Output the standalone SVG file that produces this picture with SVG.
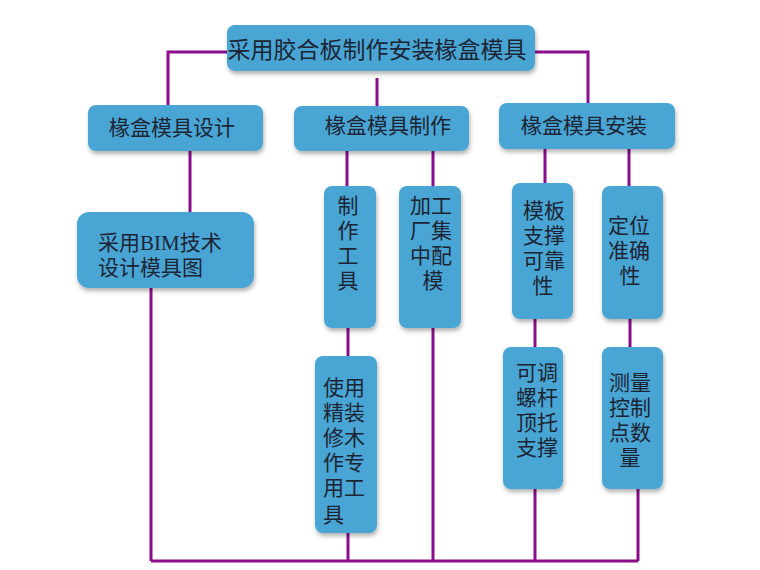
<svg xmlns="http://www.w3.org/2000/svg" width="760" height="570" viewBox="0 0 760 570">
<defs>
<filter id="sh" x="-20%" y="-20%" width="140%" height="150%">
<feDropShadow dx="1" dy="3" stdDeviation="2" flood-color="#000" flood-opacity="0.3"/>
</filter>
<style>
.box{fill:#4aa5d4;filter:url(#sh)}
.t{font-family:"Liberation Serif","Noto Sans CJK SC","Noto Sans CJK TC",serif;font-size:21px;fill:#1d2433;dominant-baseline:central}
.c{text-anchor:middle}
.ln{fill:none;stroke:#8b0d8b;stroke-width:3}
</style>
</defs>
<rect width="760" height="570" fill="#fff"/>
<g id="connectors" class="ln">
<path d="M227,52 H168 V105"/>
<path d="M535,52 H588 V103"/>
<path d="M377,78 V106"/>
<path d="M190,151 V212"/>
<path d="M151,288 V561"/>
<path d="M347,151 V186"/>
<path d="M433,151 V186"/>
<path d="M348,328 V356"/>
<path d="M348,533 V561"/>
<path d="M433,328 V561"/>
<path d="M545,149 V183"/>
<path d="M629,149 V186"/>
<path d="M535,319 V347"/>
<path d="M535,489 V561"/>
<path d="M630,319 V347"/>
<path d="M638,489 V561"/>
<path d="M151,561 H638"/>
</g>
<g id="root">
<rect class="box" x="227" y="25" width="308" height="46" rx="8"/>
<text class="t c" x="377" y="50" style="font-size:23px">采用胶合板制作安装椽盒模具</text>
</g>
<g id="design">
<rect class="box" x="88" y="105" width="175" height="46" rx="8"/>
<text class="t c" x="172" y="128">椽盒模具设计</text>
</g>
<g id="make">
<rect class="box" x="294" y="106" width="175" height="45" rx="8"/>
<text class="t c" x="388" y="126">椽盒模具制作</text>
</g>
<g id="install">
<rect class="box" x="499" y="103" width="176" height="46" rx="8"/>
<text class="t c" x="584" y="126">椽盒模具安装</text>
</g>
<g id="bim">
<rect class="box" x="77" y="212" width="177" height="76" rx="12"/>
<text class="t" x="98" y="243">采用BIM技术<tspan x="98" dy="25">设计模具图</tspan></text>
</g>
<g id="tools">
<rect class="box" x="324" y="186" width="52" height="142" rx="8"/>
<text class="t c" x="348" y="206">制<tspan x="348" dy="25">作</tspan><tspan x="348" dy="25">工</tspan><tspan x="348" dy="25">具</tspan></text>
</g>
<g id="factory">
<rect class="box" x="399" y="186" width="62" height="142" rx="8"/>
<text class="t c" x="431" y="206">加工<tspan x="431" dy="25">厂集</tspan><tspan x="431" dy="25">中配</tspan><tspan x="433" dy="25">模</tspan></text>
</g>
<g id="special">
<rect class="box" x="315" y="356" width="62" height="177" rx="8"/>
<text class="t" x="323" y="388">使用<tspan x="323" dy="25">精装</tspan><tspan x="323" dy="25">修木</tspan><tspan x="323" dy="25">作专</tspan><tspan x="323" dy="25">用工</tspan><tspan x="323" dy="27">具</tspan></text>
</g>
<g id="support">
<rect class="box" x="512" y="183" width="61" height="136" rx="8"/>
<text class="t c" x="544" y="211">模板<tspan x="544" dy="25">支撑</tspan><tspan x="544" dy="25">可靠</tspan><tspan x="543" dy="25">性</tspan></text>
</g>
<g id="position">
<rect class="box" x="602" y="186" width="61" height="133" rx="8"/>
<text class="t c" x="629" y="226">定位<tspan x="629" dy="25">准确</tspan><tspan x="630" dy="25">性</tspan></text>
</g>
<g id="screw">
<rect class="box" x="503" y="347" width="60" height="142" rx="8"/>
<text class="t c" x="537" y="373">可调<tspan x="537" dy="25">螺杆</tspan><tspan x="537" dy="25">顶托</tspan><tspan x="537" dy="25">支撑</tspan></text>
</g>
<g id="measure">
<rect class="box" x="602" y="347" width="61" height="142" rx="8"/>
<text class="t c" x="630" y="383">测量<tspan x="630" dy="25">控制</tspan><tspan x="630" dy="25">点数</tspan><tspan x="630" dy="25">量</tspan></text>
</g>
</svg>
